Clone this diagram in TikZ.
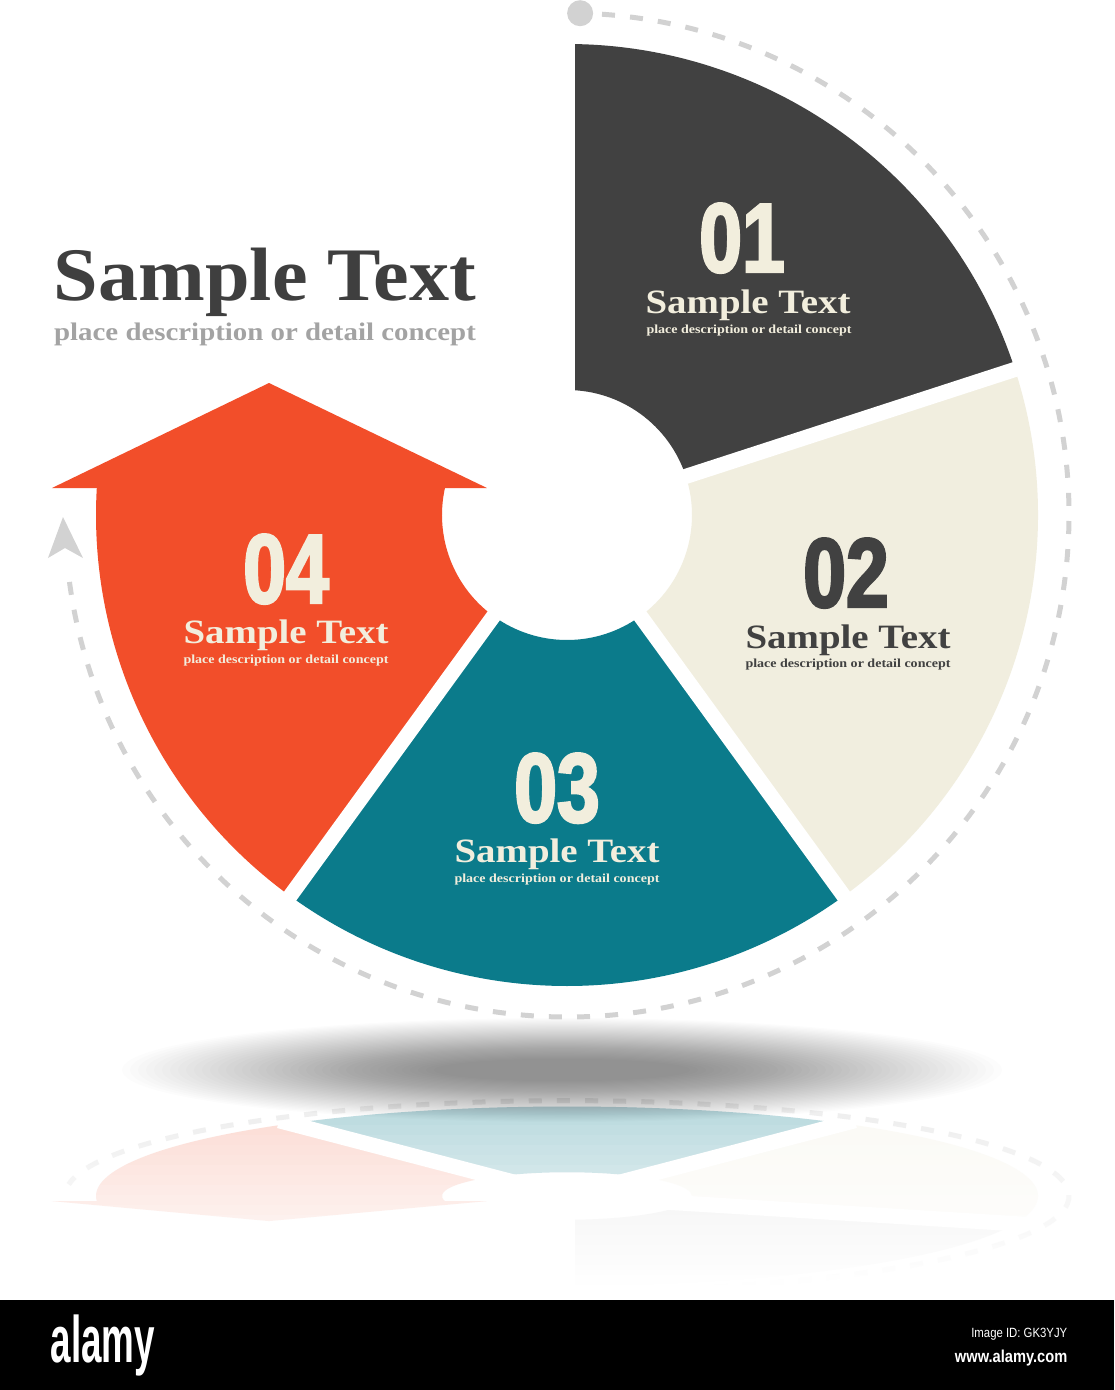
\documentclass[tikz,border=0pt]{standalone}
\usepackage{fontspec}
\usepackage{xcolor}
\usepackage{tikz}

\newfontfamily\serifb{Liberation Serif}[FakeStretch=1.14]
\newfontfamily\headfont{Liberation Serif}[FakeStretch=1.06]
\newfontfamily\numfont{Liberation Sans}[FakeStretch=0.78,BoldFeatures={FakeBold=2.5}]
\newfontfamily\logofont{Liberation Sans}[FakeStretch=0.56]
\newfontfamily\barfont{Liberation Sans}[FakeStretch=0.85]

\definecolor{darkseg}{HTML}{414141}
\definecolor{creamseg}{HTML}{F1EEDF}
\definecolor{tealseg}{HTML}{0B7B8B}
\definecolor{orangeseg}{HTML}{F24E2A}
\definecolor{creamtext}{HTML}{F2EEDD}
\definecolor{headgray}{HTML}{3F3F3F}
\definecolor{subgray}{HTML}{A3A3A3}
\definecolor{dashgray}{HTML}{D2D2D2}

% the four pieces of the wheel, #1..#4 = fill colours
\newcommand{\wheelparts}[4]{%
  \fill[#1] (90:471) arc[start angle=90, end angle=18, radius=471] -- (18:125) arc[start angle=18, end angle=90, radius=125] -- cycle;
  \fill[#2] (18:471) arc[start angle=18, end angle=-54, radius=471] -- (-54:125) arc[start angle=-54, end angle=18, radius=125] -- cycle;
  \fill[#3] (-54:471) arc[start angle=-54, end angle=-126, radius=471] -- (-126:125) arc[start angle=-126, end angle=-54, radius=125] -- cycle;
  \fill[#4] (176.7:471) arc[start angle=176.7, end angle=234, radius=471] -- (234:125) arc[start angle=234, end angle=167.5, radius=125] -- cycle;
  \fill[#4] (-515,27) -- (-298,132) -- (-80,27) -- cycle;
  \foreach \a in {90,18,-54,-126}
    \draw[white, line width=4.3pt] (0,0) -- (\a:490);
}

\begin{document}
\begin{tikzpicture}[x=0.01cm, y=0.01cm,
  dashline/.style={dashgray, line width=1.42pt, dash pattern=on 3.7pt off 4.3pt},
  headline/.style={font={\headfont\bfseries\fontsize{21.5}{24}\selectfont}, text=headgray, inner sep=0pt, anchor=base},
  headdesc/.style={font={\serifb\bfseries\fontsize{7.2}{8}\selectfont}, text=subgray, inner sep=0pt, anchor=base},
  numlabel/.style={font={\numfont\bfseries\fontsize{28}{30}\selectfont}, inner sep=0pt, anchor=base},
  segtitle/.style={font={\serifb\bfseries\fontsize{9.7}{11}\selectfont}, inner sep=0pt, anchor=base},
  segdesc/.style={font={\serifb\bfseries\fontsize{3.5}{4}\selectfont}, inner sep=0pt, anchor=base}]
% Frame
\useasboundingbox (-567,-875) rectangle (547,515);
\fill[white] (-567,-875) rectangle (547,515);

% Reflection
\begin{scope}[shift={(0,-681)}, yscale=-0.19]
  \wheelparts{darkseg!9!white}{creamseg!30!white}{tealseg!28!white}{orangeseg!20!white}
  \draw[dashline, dashgray!35!white] (86:502) arc[start angle=86, end angle=-173, radius=502];
\end{scope}
\foreach \i [evaluate=\i as \op using \i/18] in {0,...,18}
  \fill[white, opacity=\op] (-567,-590-10*\i) rectangle (547,-600-10*\i);
\fill[white] (-567,-780) rectangle (547,-785);

% Shadow under the wheel
\foreach \k in {0,...,39}
  \fill[black, opacity=0.013] (-5,-555) ellipse[x radius={440-8*\k}, y radius={52-1.05*\k}];

% Wheel
\wheelparts{darkseg}{creamseg}{tealseg}{orangeseg}

% Dashed guide with dot and arrow
\draw[dashline] (86:502) arc[start angle=86, end angle=-173, radius=502];
\fill[dashgray] (88.5:502) circle[radius=13];
\fill[dashgray] (-504,-2) -- (-484,-43) -- (-502,-33) -- (-519,-43) -- cycle;

% Heading
\node[headline] (head) at (-302,215) {Sample Text};
\node[headdesc] (headsub) at (-302,175) {place description or detail concept};

% Labels
\node[numlabel, text=creamtext] (num1) at (175,243) {01};
\node[segtitle, text=creamtext] (title1) at (181,202) {Sample Text};
\node[segdesc, text=creamtext] (desc1) at (182,182) {place description or detail concept};

\node[numlabel, text=darkseg] (num2) at (279,-92) {02};
\node[segtitle, text=darkseg] (title2) at (281,-133) {Sample Text};
\node[segdesc, text=darkseg] (desc2) at (281,-152) {place description or detail concept};

\node[numlabel, text=creamtext] (num3) at (-10,-307) {03};
\node[segtitle, text=creamtext] (title3) at (-10,-347) {Sample Text};
\node[segdesc, text=creamtext] (desc3) at (-10,-367) {place description or detail concept};

\node[numlabel, text=creamtext] (num4) at (-281,-88) {04};
\node[segtitle, text=creamtext] (title4) at (-281,-128) {Sample Text};
\node[segdesc, text=creamtext] (desc4) at (-281,-148) {place description or detail concept};

% Bottom bar
\fill[black] (-567,-785) rectangle (547,-875);
\node[font={\logofont\bfseries\fontsize{18.7}{20}\selectfont}, text=white, inner sep=0pt, anchor=base west] (logo) at (-517,-847) {alamy};
\node[font={\barfont\fontsize{3.8}{4}\selectfont}, text=white, inner sep=0pt, anchor=base east] (imgid) at (501,-822) {Image ID: GK3YJY};
\node[font={\barfont\bfseries\fontsize{4.9}{5}\selectfont}, text=white, inner sep=0pt, anchor=base east] (site) at (501,-847) {www.alamy.com};
\end{tikzpicture}
\end{document}
